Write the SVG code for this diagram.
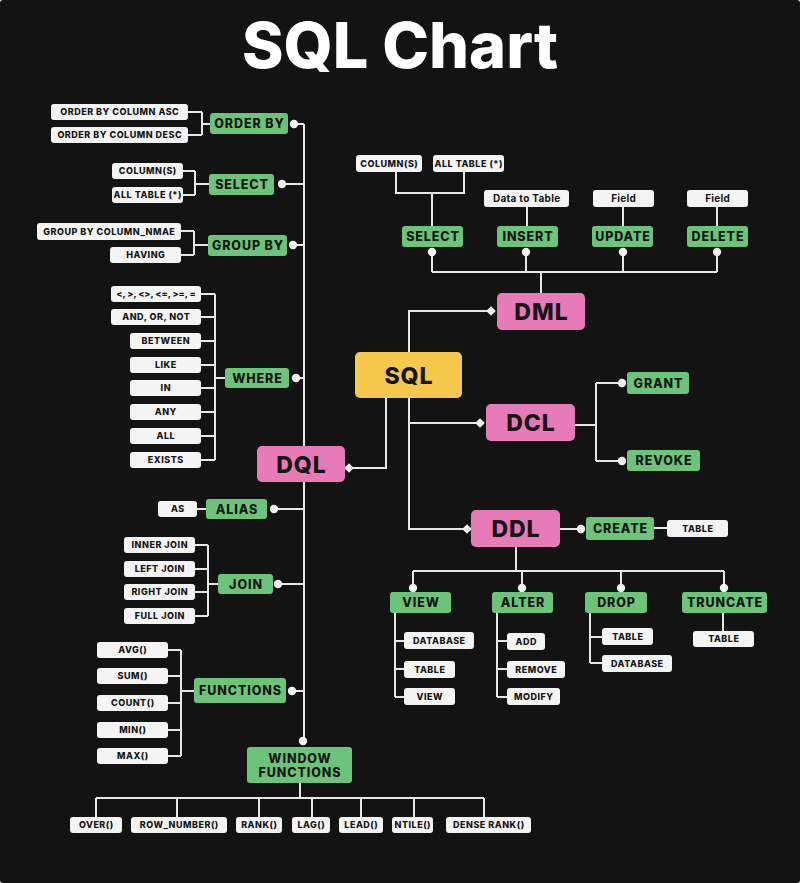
<svg xmlns="http://www.w3.org/2000/svg" width="800" height="883" viewBox="0 0 800 883">
<defs>
<style>
.bg{fill:#131313}
.w{fill:#f4f4f4}
.g{fill:#6cc47a}
.p{fill:#e77bb7}
.y{fill:#f6c94d}
rect{rx:3}
.big{rx:5}
text{font-family:Inter,"Open Sans","Liberation Sans",sans-serif;font-weight:800;fill:#161616;text-anchor:middle}
.tw{font-size:9px;letter-spacing:0.5px}
.tn{letter-spacing:0px}
.tm{font-size:10px;font-weight:700;letter-spacing:0.3px}
.tg{font-size:12.5px;letter-spacing:0.9px}
.tp{font-size:23px;letter-spacing:1px}
.title{font-size:63px;font-weight:800;fill:#ffffff}
.ln{fill:none;stroke:#e8e8e8;stroke-width:2}
.dot{fill:#f2f2f2}
</style>
<circle id="dot" r="4.2" class="dot"/>
<polygon id="dia" points="0,-4.8 4.8,0 0,4.8 -4.8,0" class="dot"/>
</defs>
<rect class="bg" x="0" y="0" width="800" height="883" rx="0"/>
<text class="title" x="400" y="68">SQL Chart</text>

<g id="connectors">
<path class="ln" d="M304 124 V446 M304 482 V741"/>
<path class="ln" d="M188 112 H202 M188 135 H202 M202 112 V135 M202 124 H210 M294 124 H304"/>
<path class="ln" d="M183 171 H195 M183 195 H195 M195 171 V195 M195 184 H209 M282 184 H304"/>
<path class="ln" d="M181 231 H194 M181 255 H194 M194 231 V255 M194 245 H208 M293 245 H304"/>
<path class="ln" d="M201 294 H215 M201 317 H215 M201 341 H215 M201 365 H215 M201 388 H215 M201 412 H215 M201 436 H215 M201 460 H215 M215 294 V460 M215 378 H225 M296 378 H304"/>
<path class="ln" d="M197 509 H206 M274 509 H304"/>
<path class="ln" d="M195 545 H208 M195 569 H208 M195 592 H208 M195 616 H208 M208 545 V616 M208 584 H218 M278 584 H304"/>
<path class="ln" d="M168 650 H181 M168 676 H181 M168 703 H181 M168 730 H181 M168 756 H181 M181 650 V756 M181 691 H194 M292 691 H304"/>
<path class="ln" d="M300 783 V798 M96 798 H484 M96 798 V817 M177 798 V817 M259 798 V817 M312 798 V817 M361 798 V817 M414 798 V817 M484 798 V817"/>
<path class="ln" d="M349 468 H386 V398"/>
<path class="ln" d="M409 352 V311 H491"/>
<path class="ln" d="M409 398 V529 H467 M409 423 H480"/>
<path class="ln" d="M541 293 V272 M432 272 H717 M432 272 V252 M526 272 V252 M623 272 V252 M717 272 V252"/>
<path class="ln" d="M432 226 V193 M396 172 V193 H464 V172 M527 207 V226 M623 207 V226 M717 207 V226"/>
<path class="ln" d="M575 425 H596 M596 383 V461 M596 383 H622 M596 461 H622"/>
<path class="ln" d="M560 529 H581 M654 528 H667"/>
<path class="ln" d="M516 547 V571 M413 571 H724 M413 571 V588 M522 571 V588 M621 571 V588 M724 571 V588"/>
<path class="ln" d="M395 613 V697 M395 641 H404 M395 669 H404 M395 697 H404"/>
<path class="ln" d="M497 613 V697 M497 641 H507 M497 669 H507 M497 697 H507"/>
<path class="ln" d="M590 613 V663 M590 637 H602 M590 663 H602"/>
<path class="ln" d="M723 613 V631"/>
<use href="#dot" x="294" y="124"/>
<use href="#dot" x="282" y="184"/>
<use href="#dot" x="293" y="245"/>
<use href="#dot" x="296" y="378"/>
<use href="#dot" x="274" y="509"/>
<use href="#dot" x="278" y="584"/>
<use href="#dot" x="292" y="691"/>
<use href="#dot" x="303" y="741"/>
<use href="#dot" x="432" y="252"/>
<use href="#dot" x="526" y="252"/>
<use href="#dot" x="623" y="252"/>
<use href="#dot" x="717" y="252"/>
<use href="#dot" x="622" y="383"/>
<use href="#dot" x="622" y="461"/>
<use href="#dot" x="581" y="529"/>
<use href="#dot" x="413" y="588"/>
<use href="#dot" x="522" y="588"/>
<use href="#dot" x="621" y="588"/>
<use href="#dot" x="724" y="588"/>
<use href="#dia" x="349" y="468"/>
<use href="#dia" x="491" y="311"/>
<use href="#dia" x="480" y="423"/>
<use href="#dia" x="467" y="529"/>
</g>

<g id="sql"><rect class="y big" x="355" y="352" width="107" height="46"/><text class="tp" x="409" y="383.5">SQL</text></g>
<g id="dql"><rect class="p big" x="257" y="446" width="88" height="36"/><text class="tp" x="301.5" y="472.5">DQL</text></g>
<g id="dml"><rect class="p big" x="497" y="293" width="88" height="37"/><text class="tp" x="541.5" y="320">DML</text></g>
<g id="dcl"><rect class="p big" x="486" y="404" width="89" height="37"/><text class="tp" x="531" y="431">DCL</text></g>
<g id="ddl"><rect class="p big" x="471" y="510" width="89" height="37"/><text class="tp" x="516" y="537">DDL</text></g>

<g id="orderby"><rect class="g" x="210" y="113" width="78" height="21"/><text class="tg" x="249.5" y="128">ORDER BY</text></g>
<g id="ob-asc"><rect class="w" x="51" y="104" width="137" height="16"/><text class="tw" x="119.8" y="115.2">ORDER BY COLUMN ASC</text></g>
<g id="ob-desc"><rect class="w" x="51" y="127" width="137" height="16"/><text class="tw" x="119.8" y="138.2">ORDER BY COLUMN DESC</text></g>

<g id="select-dql"><rect class="g" x="209" y="174" width="65" height="21"/><text class="tg" x="242" y="189">SELECT</text></g>
<g id="sd-col"><rect class="w" x="112" y="163" width="71" height="16"/><text class="tw" x="147.8" y="174.2">COLUMN(S)</text></g>
<g id="sd-all"><rect class="w" x="112" y="187" width="71" height="16"/><text class="tw" x="147.8" y="198.2">ALL TABLE (*)</text></g>

<g id="groupby"><rect class="g" x="208" y="235" width="79" height="21"/><text class="tg" x="248" y="250">GROUP BY</text></g>
<g id="gb-col"><rect class="w" x="37" y="223" width="144" height="17"/><text class="tw" x="109.3" y="234.7">GROUP BY COLUMN_NMAE</text></g>
<g id="gb-having"><rect class="w" x="110" y="247" width="71" height="16"/><text class="tw" x="145.8" y="258.2">HAVING</text></g>

<g id="where"><rect class="g" x="225" y="368" width="64" height="20"/><text class="tg" x="257.5" y="382.5">WHERE</text></g>
<g id="w-ops"><rect class="w" x="111" y="286" width="90" height="16"/><text class="tw tn" x="156" y="297.2">&lt;, &gt;, &lt;&gt;, &lt;=, &gt;=, =</text></g>
<g id="w-and"><rect class="w" x="111" y="309" width="90" height="16"/><text class="tw" x="156.3" y="320.2">AND, OR, NOT</text></g>
<g id="w-between"><rect class="w" x="130" y="333" width="71" height="16"/><text class="tw" x="165.8" y="344.2">BETWEEN</text></g>
<g id="w-like"><rect class="w" x="130" y="357" width="71" height="16"/><text class="tw" x="165.8" y="368.2">LIKE</text></g>
<g id="w-in"><rect class="w" x="130" y="380" width="71" height="16"/><text class="tw" x="165.8" y="391.2">IN</text></g>
<g id="w-any"><rect class="w" x="130" y="404" width="71" height="16"/><text class="tw" x="165.8" y="415.2">ANY</text></g>
<g id="w-all"><rect class="w" x="130" y="428" width="71" height="16"/><text class="tw" x="165.8" y="439.2">ALL</text></g>
<g id="w-exists"><rect class="w" x="130" y="452" width="71" height="16"/><text class="tw" x="165.8" y="463.2">EXISTS</text></g>

<g id="alias"><rect class="g" x="206" y="499" width="61" height="20"/><text class="tg" x="237" y="513.5">ALIAS</text></g>
<g id="as"><rect class="w" x="158" y="501" width="39" height="16"/><text class="tw" x="177.8" y="512.2">AS</text></g>

<g id="join"><rect class="g" x="218" y="574" width="55" height="20"/><text class="tg" x="246" y="588.5">JOIN</text></g>
<g id="j-inner"><rect class="w" x="124" y="537" width="71" height="16"/><text class="tw" x="159.8" y="548.2">INNER JOIN</text></g>
<g id="j-left"><rect class="w" x="124" y="561" width="71" height="16"/><text class="tw" x="159.8" y="572.2">LEFT JOIN</text></g>
<g id="j-right"><rect class="w" x="124" y="584" width="71" height="16"/><text class="tw" x="159.8" y="595.2">RIGHT JOIN</text></g>
<g id="j-full"><rect class="w" x="124" y="608" width="71" height="16"/><text class="tw" x="159.8" y="619.2">FULL JOIN</text></g>

<g id="functions"><rect class="g" x="194" y="678" width="92" height="25"/><text class="tg" x="240.5" y="695">FUNCTIONS</text></g>
<g id="f-avg"><rect class="w" x="97" y="642" width="71" height="16"/><text class="tw" x="132.8" y="653.2">AVG()</text></g>
<g id="f-sum"><rect class="w" x="97" y="668" width="71" height="16"/><text class="tw" x="132.8" y="679.2">SUM()</text></g>
<g id="f-count"><rect class="w" x="97" y="695" width="71" height="16"/><text class="tw" x="132.8" y="706.2">COUNT()</text></g>
<g id="f-min"><rect class="w" x="97" y="722" width="71" height="16"/><text class="tw" x="132.8" y="733.2">MIN()</text></g>
<g id="f-max"><rect class="w" x="97" y="748" width="71" height="16"/><text class="tw" x="132.8" y="759.2">MAX()</text></g>

<g id="window"><rect class="g" x="247" y="747" width="105" height="36"/><text class="tg" x="300" y="762.5">WINDOW</text><text class="tg" x="300" y="776.5">FUNCTIONS</text></g>
<g id="wf-over"><rect class="w" x="70" y="817" width="52" height="16"/><text class="tw" x="96.3" y="828.2">OVER()</text></g>
<g id="wf-row"><rect class="w" x="131" y="817" width="96" height="16"/><text class="tw" x="179.3" y="828.2">ROW_NUMBER()</text></g>
<g id="wf-rank"><rect class="w" x="236" y="817" width="46" height="16"/><text class="tw" x="259.3" y="828.2">RANK()</text></g>
<g id="wf-lag"><rect class="w" x="292" y="817" width="38" height="16"/><text class="tw" x="311.3" y="828.2">LAG()</text></g>
<g id="wf-lead"><rect class="w" x="339" y="817" width="44" height="16"/><text class="tw" x="361.3" y="828.2">LEAD()</text></g>
<g id="wf-ntile"><rect class="w" x="392" y="817" width="41" height="16"/><text class="tw" x="412.8" y="828.2">NTILE()</text></g>
<g id="wf-dense"><rect class="w" x="446" y="817" width="85" height="16"/><text class="tw" x="488.8" y="828.2">DENSE RANK()</text></g>

<g id="dml-select"><rect class="g" x="402" y="226" width="61" height="21"/><text class="tg" x="433" y="241">SELECT</text></g>
<g id="dml-col"><rect class="w" x="356" y="155" width="66" height="17"/><text class="tw" x="389.3" y="166.7">COLUMN(S)</text></g>
<g id="dml-all"><rect class="w" x="433" y="155" width="71" height="17"/><text class="tw" x="468.8" y="166.7">ALL TABLE (*)</text></g>
<g id="insert"><rect class="g" x="497" y="226" width="61" height="21"/><text class="tg" x="528" y="241">INSERT</text></g>
<g id="ins-data"><rect class="w" x="484" y="190" width="85" height="17"/><text class="tm" x="526.7" y="202">Data to Table</text></g>
<g id="update"><rect class="g" x="592" y="226" width="61" height="21"/><text class="tg" x="623" y="241">UPDATE</text></g>
<g id="upd-field"><rect class="w" x="593" y="190" width="61" height="17"/><text class="tm" x="623.7" y="202">Field</text></g>
<g id="delete"><rect class="g" x="687" y="226" width="61" height="21"/><text class="tg" x="718" y="241">DELETE</text></g>
<g id="del-field"><rect class="w" x="687" y="190" width="61" height="17"/><text class="tm" x="717.7" y="202">Field</text></g>

<g id="grant"><rect class="g" x="627" y="372" width="62" height="22"/><text class="tg" x="658.5" y="387.5">GRANT</text></g>
<g id="revoke"><rect class="g" x="627" y="450" width="73" height="21"/><text class="tg" x="664" y="465">REVOKE</text></g>

<g id="create"><rect class="g" x="586" y="517" width="68" height="23"/><text class="tg" x="620.5" y="533">CREATE</text></g>
<g id="create-table"><rect class="w" x="667" y="520" width="61" height="17"/><text class="tw" x="697.8" y="531.7">TABLE</text></g>

<g id="view"><rect class="g" x="390" y="592" width="61" height="21"/><text class="tg" x="421" y="607">VIEW</text></g>
<g id="v-db"><rect class="w" x="404" y="632" width="70" height="17"/><text class="tw" x="439.3" y="643.7">DATABASE</text></g>
<g id="v-table"><rect class="w" x="404" y="661" width="51" height="17"/><text class="tw" x="429.8" y="672.7">TABLE</text></g>
<g id="v-view"><rect class="w" x="404" y="688" width="51" height="17"/><text class="tw" x="429.8" y="699.7">VIEW</text></g>

<g id="alter"><rect class="g" x="492" y="592" width="61" height="21"/><text class="tg" x="523" y="607">ALTER</text></g>
<g id="a-add"><rect class="w" x="507" y="633" width="38" height="17"/><text class="tw" x="526.3" y="644.7">ADD</text></g>
<g id="a-remove"><rect class="w" x="507" y="661" width="58" height="17"/><text class="tw" x="536.3" y="672.7">REMOVE</text></g>
<g id="a-modify"><rect class="w" x="507" y="688" width="53" height="17"/><text class="tw" x="533.8" y="699.7">MODIFY</text></g>

<g id="drop"><rect class="g" x="585" y="592" width="62" height="21"/><text class="tg" x="616.5" y="607">DROP</text></g>
<g id="d-table"><rect class="w" x="602" y="628" width="51" height="17"/><text class="tw" x="627.8" y="639.7">TABLE</text></g>
<g id="d-db"><rect class="w" x="602" y="655" width="70" height="17"/><text class="tw" x="637.3" y="666.7">DATABASE</text></g>

<g id="truncate"><rect class="g" x="682" y="592" width="85" height="21"/><text class="tg" x="725" y="607">TRUNCATE</text></g>
<g id="t-table"><rect class="w" x="693" y="631" width="61" height="16"/><text class="tw" x="723.8" y="642.2">TABLE</text></g>
</svg>
